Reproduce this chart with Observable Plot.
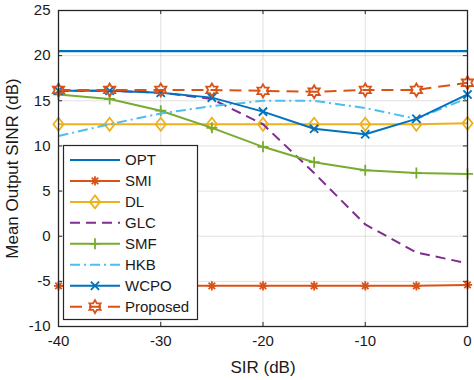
<!DOCTYPE html>
<html>
<head>
<meta charset="utf-8">
<script src="https://cdn.jsdelivr.net/npm/d3@7"></script>
<script src="https://cdn.jsdelivr.net/npm/@observablehq/plot@0.6"></script>
<style>
  html, body { margin: 0; padding: 0; background: #fff; }
  #chart svg { display: block; }
</style>
</head>
<body>
<div id="chart"></div>
<script>
// ---- data ----
const sir = [-40, -35, -30, -25, -20, -15, -10, -5, 0];
const opt      = [20.5, 20.5, 20.5, 20.5, 20.5, 20.5, 20.5, 20.5, 20.5];
const smi      = [-5.5, -5.5, -5.5, -5.5, -5.5, -5.5, -5.5, -5.5, -5.4];
const dl       = [12.4, 12.4, 12.4, 12.4, 12.4, 12.4, 12.4, 12.4, 12.5];
const glc      = [16.1, 16.1, 15.9, 15.2, 12.4, 7.0, 1.3, -1.8, -3.0];
const smf      = [15.7, 15.2, 13.9, 12.0, 9.9, 8.2, 7.3, 7.0, 6.9];
const hkb      = [11.1, 12.4, 13.6, 14.4, 15.0, 15.0, 14.2, 13.0, 15.3];
const wcpo     = [16.1, 16.1, 15.9, 15.35, 13.8, 11.9, 11.3, 13.0, 15.7];
const proposed = [16.2, 16.2, 16.2, 16.2, 16.1, 16.0, 16.2, 16.2, 17.0];
const seriesNames = ["OPT", "SMI", "DL", "GLC", "SMF", "HKB", "WCPO", "Proposed"];
const seriesValues = [opt, smi, dl, glc, smf, hkb, wcpo, proposed];
const xTicks = [-40, -30, -20, -10, 0];
const yTicks = [-10, -5, 0, 5, 10, 15, 20, 25];
const xLabel = "SIR (dB)";
const yLabel = "Mean Output SINR (dB)";

// ---- custom marker symbols (radius = sqrt(size/PI)) ----
const R = s => Math.sqrt(s / Math.PI);
const asterisk = { draw(c, s) { const r = R(s);
  for (let k = 0; k < 4; k++) { const a = k * Math.PI / 4;
    c.moveTo(-r * Math.cos(a), -r * Math.sin(a)); c.lineTo(r * Math.cos(a), r * Math.sin(a)); } } };
const diamond = { draw(c, s) { const r = R(s), w = r * 0.78;
  c.moveTo(0, -r); c.lineTo(w, 0); c.lineTo(0, r); c.lineTo(-w, 0); c.closePath(); } };
const plus = { draw(c, s) { const r = R(s);
  c.moveTo(-r, 0); c.lineTo(r, 0); c.moveTo(0, -r); c.lineTo(0, r); } };
const cross = { draw(c, s) { const r = R(s) * 0.75;
  c.moveTo(-r, -r); c.lineTo(r, r); c.moveTo(-r, r); c.lineTo(r, -r); } };
const hexagram = { draw(c, s) { const r = R(s), ri = r / Math.sqrt(3);
  for (let k = 0; k < 12; k++) { const a = -Math.PI / 2 + k * Math.PI / 6, rr = k % 2 ? ri : r;
    const px = rr * Math.cos(a), py = rr * Math.sin(a);
    k ? c.lineTo(px, py) : c.moveTo(px, py); } c.closePath(); } };

// ---- styles ----
const styles = [
  { stroke: "#0072BD", width: 2.2, dash: null, symbol: null, r: 0 },
  { stroke: "#D95319", width: 2, dash: null, symbol: asterisk, r: 4.6 },
  { stroke: "#EDB120", width: 2, dash: null, symbol: diamond, r: 6.5 },
  { stroke: "#7E2F8E", width: 2, dash: "10,6", symbol: null, r: 0 },
  { stroke: "#77AC30", width: 2, dash: null, symbol: plus, r: 5.5 },
  { stroke: "#4DBEEE", width: 2, dash: "10,4,2,4", symbol: null, r: 0 },
  { stroke: "#0072BD", width: 2, dash: null, symbol: cross, r: 5.5 },
  { stroke: "#D95319", width: 2, dash: "12,7", symbol: hexagram, r: 6.5 }
];

const tables = seriesValues.map(vals => sir.map((x, i) => ({ x, y: vals[i] })));

const marks = [
  Plot.gridX(xTicks, { stroke: "#000", strokeOpacity: 0.12, strokeWidth: 1 }),
  Plot.gridY(yTicks, { stroke: "#000", strokeOpacity: 0.12, strokeWidth: 1 }),
  Plot.axisX({ ticks: xTicks, tickSize: 0, tickPadding: 9, fontSize: 15, label: null, tickFormat: d => String(d) }),
  Plot.axisY({ ticks: yTicks, tickSize: 0, tickPadding: 8, fontSize: 15, label: null, tickFormat: d => String(d) }),
  Plot.ruleX(xTicks, { y1: -10, y2: -10 + 0.45, stroke: "#262626", strokeWidth: 1 }),
  Plot.ruleX(xTicks, { y1: 25, y2: 25 - 0.45, stroke: "#262626", strokeWidth: 1 }),
  Plot.ruleY(yTicks, { x1: -40, x2: -40 + 0.4, stroke: "#262626", strokeWidth: 1 }),
  Plot.ruleY(yTicks, { x1: 0, x2: -0.4, stroke: "#262626", strokeWidth: 1 })
];
tables.forEach((t, i) => {
  const st = styles[i];
  marks.push(Plot.line(t, { x: "x", y: "y", stroke: st.stroke, strokeWidth: st.width,
    strokeDasharray: st.dash, strokeLinejoin: "round", strokeLinecap: "butt" }));
  if (st.symbol) marks.push(Plot.dot(t, { x: "x", y: "y", symbol: st.symbol, r: st.r,
    stroke: st.stroke, strokeWidth: 1.8, fill: "none" }));
});
marks.push(Plot.frame({ stroke: "#262626", strokeWidth: 1.3 }));
marks.push(Plot.text([xLabel], { text: d => d, frameAnchor: "bottom", dy: 41, fontSize: 17,
  lineAnchor: "middle", textAnchor: "middle", fill: "#1a1a1a" }));
marks.push(Plot.text([yLabel], { text: d => d, frameAnchor: "left", dx: -46, rotate: -90, fontSize: 17,
  lineAnchor: "middle", textAnchor: "middle", fill: "#1a1a1a" }));

const chart = Plot.plot({
  width: 474, height: 380,
  marginLeft: 58, marginRight: 7, marginTop: 10, marginBottom: 54,
  style: { fontFamily: "'Liberation Sans', Arial, sans-serif", fontSize: "15px", color: "#1a1a1a", background: "#fff" },
  x: { domain: [-40, 0] },
  y: { domain: [-10, 25] },
  marks
});
document.getElementById("chart").appendChild(chart);

// ---- legend ----
const svg = d3.select(chart);
const lg = svg.append("g").attr("font-family", "'Liberation Sans', Arial, sans-serif")
  .attr("font-size", 15).attr("text-anchor", "start");
lg.append("rect").attr("x", 63.5).attr("y", 145.5).attr("width", 134).attr("height", 174)
  .attr("fill", "#fff").attr("stroke", "#262626").attr("stroke-width", 1.2);
seriesNames.forEach((name, i) => {
  const st = styles[i];
  const y = 160 + i * 20.95;
  lg.append("line").attr("x1", 70).attr("x2", 120).attr("y1", y).attr("y2", y)
    .attr("stroke", st.stroke).attr("stroke-width", st.width)
    .attr("stroke-dasharray", st.dash);
  if (st.symbol) lg.append("path").attr("transform", `translate(95,${y})`)
    .attr("d", d3.symbol(st.symbol, Math.PI * st.r * st.r)())
    .attr("fill", "none").attr("stroke", st.stroke).attr("stroke-width", 1.8);
  lg.append("text").attr("x", 125).attr("y", y).attr("dy", "0.35em")
    .attr("text-anchor", "start").attr("fill", "#1a1a1a").text(name);
});
</script>
</body>
</html>
